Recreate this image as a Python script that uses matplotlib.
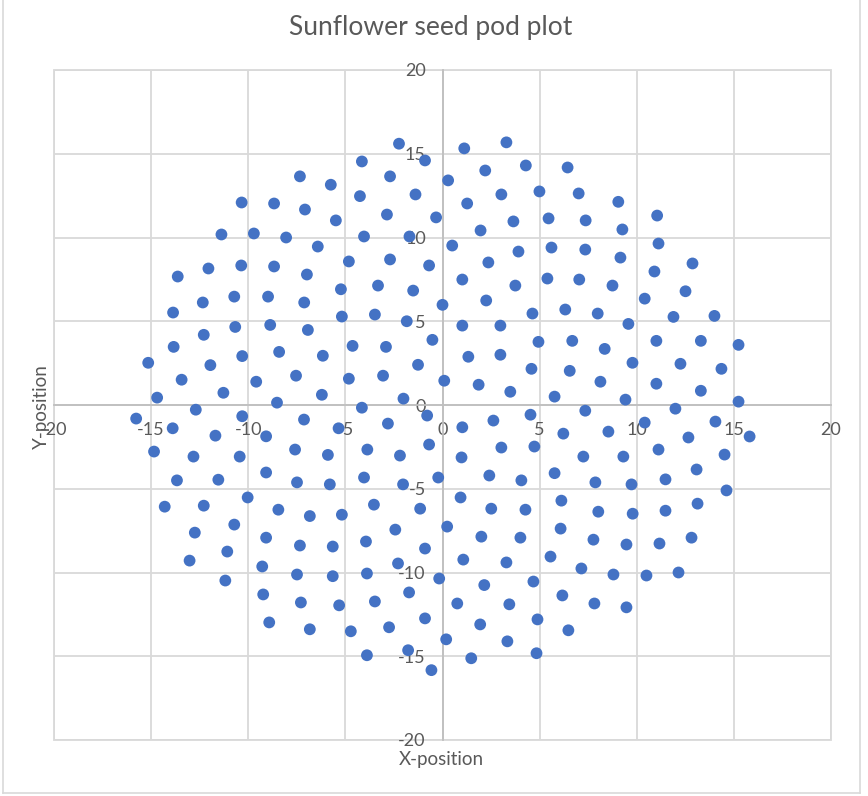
import matplotlib
matplotlib.use("Agg")
import matplotlib.pyplot as plt
from matplotlib.patches import Rectangle
from matplotlib.lines import Line2D

plt.rcParams['font.family'] = ['Lato', 'DejaVu Sans']

title = "Sunflower seed pod plot"
x_label = "X-position"
y_label = "Y-position"
ticks = [-20, -15, -10, -5, 0, 5, 10, 15, 20]

# Seed positions, grouped by region
x_nw = [-7.34, -5.75, -10.34, -8.67, -7.08, -11.38, -9.71, -8.05, -6.42, -13.63,
        -12.05, -10.36, -8.67, -6.98, -13.87, -12.34, -10.72, -8.98, -7.12]
y_nw = [13.65, 13.15, 12.09, 12.03, 11.67, 10.18, 10.24, 10.00, 9.46, 7.67,
        8.15, 8.33, 8.27, 7.79, 5.52, 6.12, 6.47, 6.47, 6.12]

x_n = [-2.24, 1.12, 3.29, -4.15, -0.90, 2.20, 4.29, -2.70, 0.29, -4.25,
       -1.39, 3.03, 4.99, 1.27, -5.49, -2.86, -0.33, 3.65, 5.46, -4.04,
       -1.70, 1.96, 0.50, 3.91, 5.61, -4.82, -2.70, -0.69, 2.36, 5.40,
       -5.23, -3.32, -1.51, 1.02, 3.75, 0.00, 2.25, 4.63, -3.48]
y_n = [15.60, 15.32, 15.68, 14.54, 14.60, 14.00, 14.30, 13.65, 13.41, 12.47,
       12.57, 12.57, 12.75, 12.03, 11.02, 11.37, 11.20, 10.96, 11.14, 10.06,
       10.06, 10.42, 9.52, 9.16, 9.40, 8.57, 8.69, 8.33, 8.51, 7.55,
       6.91, 7.13, 6.83, 7.49, 7.13, 5.98, 6.24, 5.46, 5.40]

x_ne = [6.44, 7.01, 9.05, 7.37, 9.26, 11.05, 7.35, 9.16, 11.12, 12.87,
        7.04, 8.75, 10.91, 12.51, 10.41, 6.32, 7.99]
y_ne = [14.18, 12.63, 12.13, 11.02, 10.48, 11.31, 9.28, 8.80, 9.64, 8.45,
        7.49, 7.13, 7.97, 6.79, 6.35, 5.70, 5.46]

x_w = [-10.67, -8.87, -6.93, -12.29, -13.84, -10.31, -8.41, -6.16, -15.15, -11.95,
       -13.43, -9.59, -7.54, -14.69, -11.28, -6.21, -8.52, -12.70, -15.77, -10.31,
       -7.13, -13.89, -11.69, -9.08, -14.85, -12.82, -10.44, -7.59, -5.90, -9.08,
       -13.67, -11.54, -7.49, -5.80, -10.03]
y_w = [4.66, 4.78, 4.48, 4.19, 3.47, 2.92, 3.17, 2.94, 2.52, 2.38,
       1.51, 1.39, 1.75, 0.44, 0.73, 0.61, 0.14, -0.28, -0.81, -0.67,
       -0.87, -1.39, -1.83, -1.87, -2.78, -3.08, -3.08, -2.66, -2.98, -4.03,
       -4.50, -4.46, -4.62, -4.74, -5.52]

x_c = [-5.18, -1.84, 1.02, 2.98, -4.63, -2.91, -0.52, 4.94, 1.33, 2.98,
       -1.26, 4.58, -4.82, -3.06, 0.09, 1.86, 3.49, 5.77, -2.01, -4.15,
       -0.79, 4.53, 2.62, -5.35, -2.81, 1.02, -3.87, -2.19, -0.69, 0.98,
       3.03, 4.73, -4.04, -2.03, -0.22, 2.41, 4.06, 5.77, 0.93]
y_c = [5.28, 5.00, 4.74, 4.74, 3.53, 3.47, 3.89, 3.77, 2.88, 3.00,
       2.40, 2.16, 1.57, 1.75, 1.45, 1.21, 0.79, 0.50, 0.38, -0.16,
       -0.63, -0.58, -0.93, -1.39, -1.11, -1.33, -2.66, -3.02, -2.36, -3.13,
       -2.54, -2.48, -4.33, -4.74, -4.33, -4.21, -4.50, -4.07, -5.52]

x_e = [11.89, 14.00, 9.57, 6.68, 8.35, 11.01, 13.30, 15.24, 6.55, 8.13,
       9.78, 12.25, 14.36, 11.01, 13.30, 9.42, 15.24, 7.35, 11.99, 10.41,
       14.05, 6.22, 8.54, 12.66, 15.81, 7.25, 9.31, 11.12, 14.52, 13.08,
       7.87, 9.73, 11.48, 14.62]
y_e = [5.26, 5.32, 4.84, 3.83, 3.35, 3.83, 3.83, 3.59, 2.04, 1.39,
       2.52, 2.46, 2.16, 1.27, 0.85, 0.32, 0.20, -0.34, -0.22, -1.05,
       -0.99, -1.71, -1.59, -1.94, -1.88, -3.08, -3.08, -2.66, -2.96, -3.85,
       -4.62, -4.74, -4.44, -5.10]

x_sw = [-14.30, -12.29, -8.45, -6.83, -12.75, -10.72, -9.08, -7.34, -5.65, -13.02,
        -11.08, -9.28, -7.49, -5.65, -11.18, -9.23, -7.29, -8.92, -6.83]
y_sw = [-6.07, -6.01, -6.25, -6.63, -7.62, -7.14, -7.92, -8.39, -8.45, -9.29,
        -8.75, -9.64, -10.12, -10.22, -10.48, -11.31, -11.79, -12.98, -13.39]

x_s = [-5.18, -3.53, -1.15, 2.51, 4.27, -2.43, 0.24, 2.00, 4.01, -3.94,
       -0.90, 1.07, 3.29, 5.56, -2.29, -3.89, -0.17, 2.15, 4.68, -1.72,
       -5.32, -3.48, 0.76, 3.44, -0.90, 1.94, 4.89, -4.72, -2.75, 0.19,
       3.34, -3.89, -1.77, 1.48, 4.84, -0.57]
y_s = [-6.55, -5.95, -6.19, -6.19, -6.25, -7.44, -7.26, -7.86, -7.92, -8.15,
       -8.57, -9.23, -9.40, -9.05, -9.46, -10.06, -10.36, -10.75, -10.54, -11.19,
       -11.96, -11.73, -11.85, -11.90, -12.74, -13.10, -12.80, -13.51, -13.27, -13.99,
       -14.11, -14.94, -14.64, -15.12, -14.82, -15.83]

x_se = [6.12, 8.02, 9.79, 11.48, 13.13, 6.08, 7.77, 9.47, 11.17, 12.82,
        7.15, 8.80, 10.50, 12.15, 6.17, 7.82, 9.47, 6.48]
y_se = [-5.71, -6.37, -6.49, -6.31, -5.89, -7.38, -8.04, -8.33, -8.27, -7.92,
        -9.76, -10.12, -10.18, -10.00, -11.37, -11.85, -12.08, -13.45]

xs = x_nw + x_n + x_ne + x_w + x_c + x_e + x_sw + x_s + x_se
ys = y_nw + y_n + y_ne + y_w + y_c + y_e + y_sw + y_s + y_se

W, H = 868, 796
fig = plt.figure(figsize=(W / 100, H / 100), dpi=100)
fig.patch.set_facecolor('white')

grid_c = '#D9D9D9'
axis_c = '#BFBFBF'
text_c = '#595959'

# chart border
fig.add_artist(Line2D([3 / W, 3 / W], [3 / H, 1], color=grid_c, lw=1.2))
fig.add_artist(Line2D([3 / W, 860 / W], [3 / H, 3 / H], color=grid_c, lw=1.2))
fig.add_artist(Line2D([860 / W, 860 / W], [3 / H, 1], color=grid_c, lw=1.2))

left, right, top, bottom = 54, 831, 70, 740
ax = fig.add_axes([left / W, (H - bottom) / H, (right - left) / W, (bottom - top) / H])
ax.set_xlim(-20, 20)
ax.set_ylim(-20, 20)
ax.set_xticks(ticks)
ax.set_yticks(ticks)
ax.grid(True, color=grid_c, lw=1.3, zorder=0)
ax.set_axisbelow(True)

for s in ['top', 'right']:
    ax.spines[s].set_visible(False)
ax.spines['left'].set_position(('data', 0))
ax.spines['bottom'].set_position(('data', 0))
ax.spines['left'].set_color(axis_c)
ax.spines['bottom'].set_color(axis_c)
ax.spines['left'].set_linewidth(1.3)
ax.spines['bottom'].set_linewidth(1.3)
ax.add_patch(Rectangle((0, 0), 1, 1, transform=ax.transAxes, fill=False,
                       edgecolor=grid_c, lw=1.3, clip_on=False, zorder=0.5))

ax.tick_params(axis='both', length=0, labelsize=13, labelcolor=text_c)
ax.tick_params(axis='x', pad=12)
ax.tick_params(axis='y', pad=12)
ax.set_xticklabels([str(t) for t in ticks])
ax.set_yticklabels([str(t) for t in ticks])

ax.scatter(xs, ys, s=72, color='#4472C4', edgecolors='none', zorder=3, clip_on=False)

fig.text(431 / W, 1 - 28 / H, title, ha='center', va='center', fontsize=19, color=text_c)
fig.text(441 / W, 1 - 759 / H, x_label, ha='center', va='center', fontsize=13.5, color=text_c)
fig.text(41 / W, 1 - 407 / H, y_label, ha='center', va='center', rotation=90,
         fontsize=13.5, color=text_c)

fig.savefig('out.png', dpi=100, facecolor='white')
